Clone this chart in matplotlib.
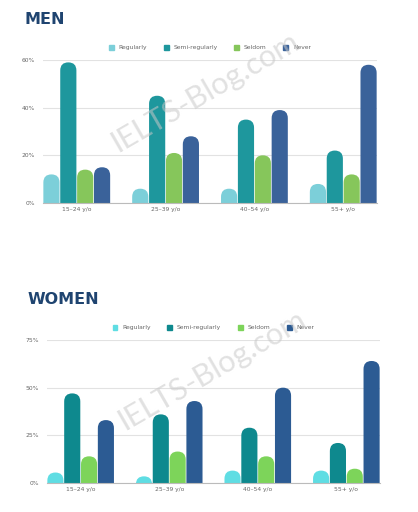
import numpy as np
import matplotlib.pyplot as plt
from matplotlib.patches import FancyBboxPatch

ages = ["15–24 y/o", "25–39 y/o", "40–54 y/o", "55+ y/o"]
series = ["Regularly", "Semi-regularly", "Seldom", "Never"]

men_regularly = [12, 6, 6, 8]
men_semi = [59, 45, 35, 22]
men_seldom = [14, 21, 20, 12]
men_never = [15, 28, 39, 58]

women_regularly = [5.5, 3.5, 6.5, 6.5]
women_semi = [47, 36, 29, 21]
women_seldom = [14, 16.5, 14, 7.5]
women_never = [33, 43, 50, 64]

men_colors = ["#7ccfd9", "#1e979d", "#86c65b", "#3a629a"]
women_colors = ["#5fdde3", "#0e898e", "#7dd45a", "#2c5b93"]

W, H = 418, 512
fig = plt.figure(figsize=(W / 100, H / 100), dpi=100)
fig.patch.set_facecolor("white")


def rounded_bars(ax, data, colors, ymax, ticks):
    n = len(data)
    step = 0.19
    width = 0.182
    x = np.arange(len(ages))
    ax.set_xlim(-2 * step, len(ages) - 1 + 2 * step)
    ax.set_ylim(0, ymax)
    # aspect ratio between y and x data units in pixels
    bb = ax.get_position()
    px_w = bb.width * W
    px_h = bb.height * H
    xr = ax.get_xlim()[1] - ax.get_xlim()[0]
    aspect = (ymax / px_h) / (xr / px_w)
    r = width / 2
    handles = []
    for i, (vals, c) in enumerate(zip(data, colors)):
        bars = ax.bar(x + (i - (n - 1) / 2) * step, vals, width, color=c,
                      label=series[i], alpha=0)
        for b in bars:
            p = FancyBboxPatch((b.get_x(), -r * aspect), b.get_width(),
                               b.get_height() + r * aspect,
                               boxstyle="round,pad=0,rounding_size=%f" % r,
                               mutation_aspect=aspect, facecolor=c,
                               edgecolor="none", zorder=3)
            ax.add_patch(p)
        handles.append(plt.Rectangle((0, 0), 1, 1, color=c))
    ax.set_yticks(ticks)
    ax.set_yticklabels(["%d%%" % t for t in ticks])
    ax.set_xticks(x)
    ax.set_xticklabels(ages)
    ax.tick_params(length=0, labelsize=4.3, colors="#666666", pad=3)
    ax.tick_params(axis="y", pad=6)
    ax.grid(axis="y", color="#e2e2e2", linewidth=0.8, zorder=0)
    ax.set_axisbelow(True)
    for s in ["top", "right", "left"]:
        ax.spines[s].set_visible(False)
    ax.spines["bottom"].set_color("#bbbbbb")
    ax.spines["bottom"].set_linewidth(0.8)
    ax.spines["bottom"].set_zorder(4)
    ax.legend(handles, series, loc="lower center", bbox_to_anchor=(0.5, 1.03),
              ncol=4, frameon=False, fontsize=4.3, handlelength=0.8,
              handleheight=0.8, columnspacing=2.8, handletextpad=0.8,
              labelcolor="#666666")


# men panel
ax1 = fig.add_axes([43 / W, 1 - 203 / H, 334 / W, 143 / H])
rounded_bars(ax1, [men_regularly, men_semi, men_seldom, men_never],
             men_colors, 60, [0, 20, 40, 60])

# women panel
ax2 = fig.add_axes([47 / W, 1 - 483 / H, 333 / W, 143 / H])
rounded_bars(ax2, [women_regularly, women_semi, women_seldom, women_never],
             women_colors, 75, [0, 25, 50, 75])

fig.text(24 / W, 1 - 20 / H, "MEN", fontsize=11.5, fontweight="bold",
         family="DejaVu Sans", color="#1f4470", va="center")
fig.text(28 / W, 1 - 299 / H, "WOMEN", fontsize=11.5, fontweight="bold",
         family="DejaVu Sans", color="#1f4470", va="center")

# watermarks
for cx, cy in [(205, 92), (212, 370)]:
    fig.text(cx / W, 1 - cy / H, "IELTS-Blog.com", fontsize=22, rotation=30,
             color="#c8c8c8", alpha=0.55, ha="center", va="center",
             family=["Lato", "DejaVu Sans"], zorder=10)

fig.savefig("out.png", dpi=100)
